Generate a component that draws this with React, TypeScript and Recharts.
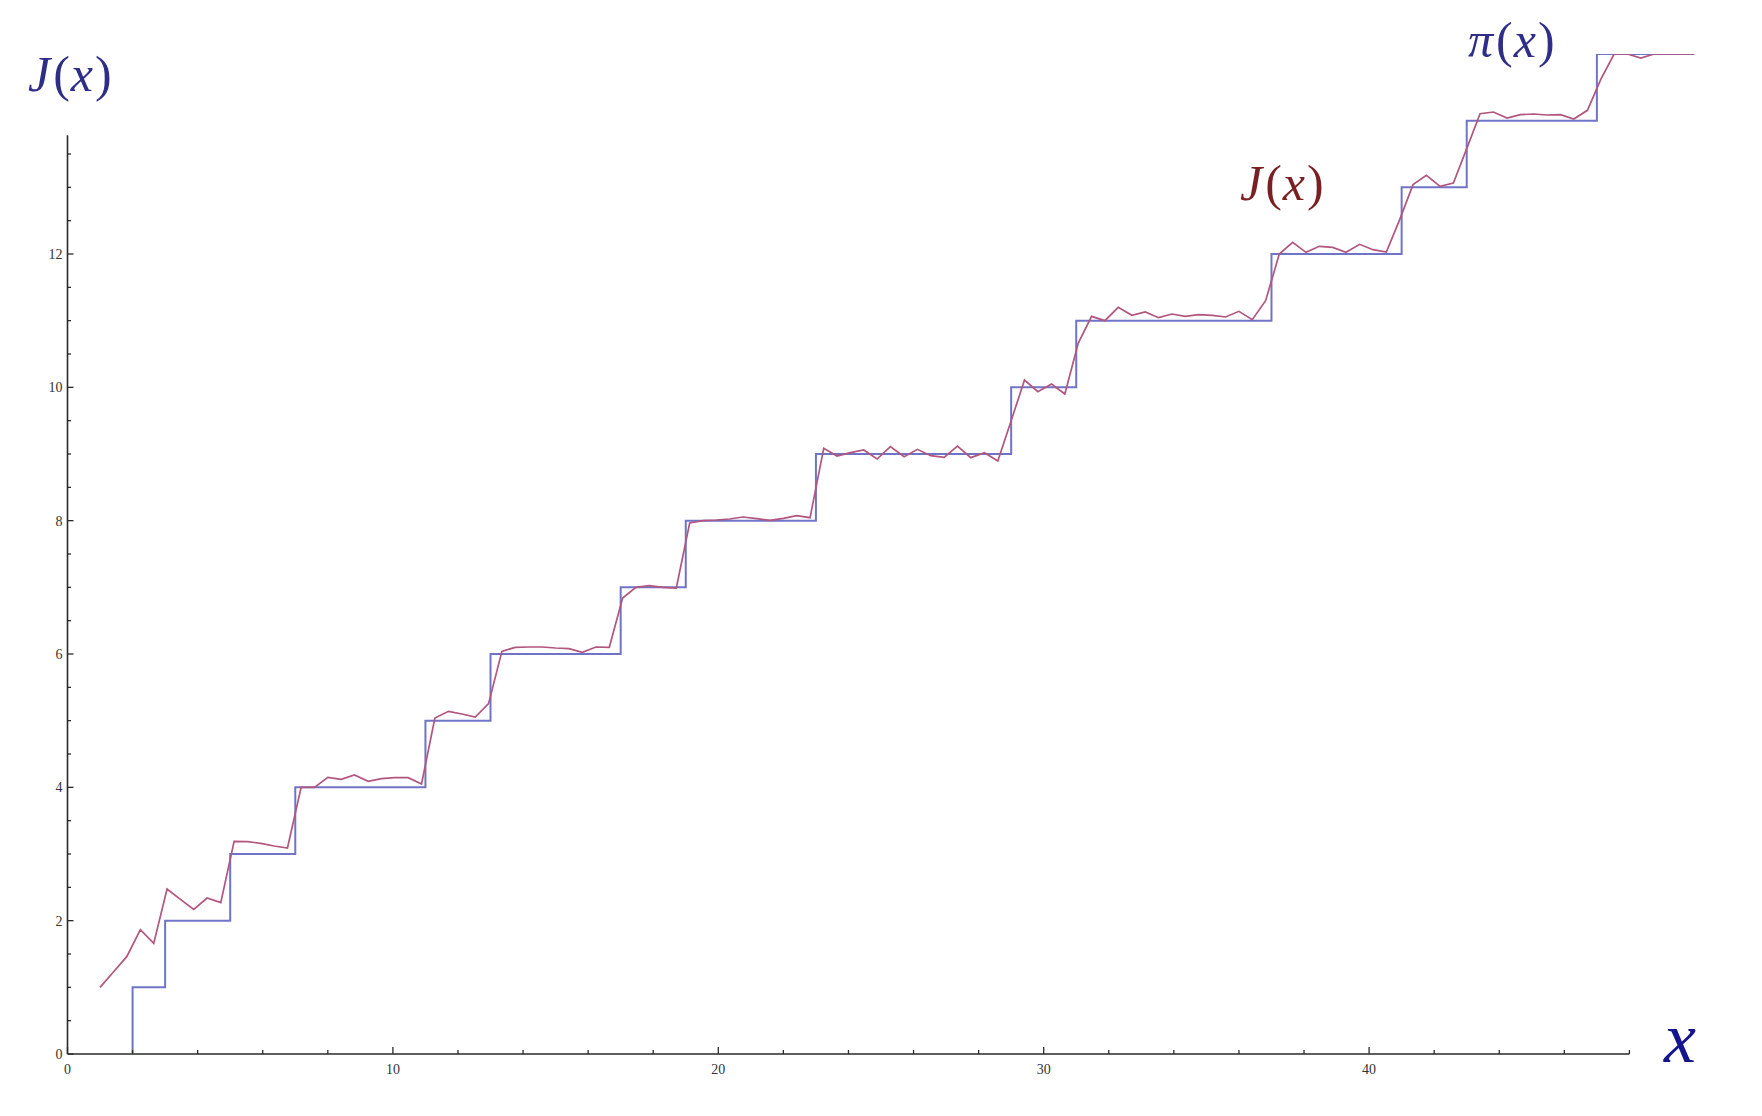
import { LineChart, Line, XAxis, YAxis, ReferenceLine } from "recharts";

// prime-counting step function
const primes = [2, 3, 5, 7, 11, 13, 17, 19, 23, 29, 31, 37, 41, 43, 47];
const primeCounts = [1, 2, 3, 4, 5, 6, 7, 8, 9, 10, 11, 12, 13, 14, 15];
const piStart = { x: 2, y: 0 };
const piEnd = { x: 50, y: 15 };

// J(x) sample points
const jX = [
  1.0, 1.41, 1.82, 2.24, 2.65, 3.06, 3.47, 3.88, 4.29, 4.71,
  5.12, 5.53, 5.94, 6.35, 6.76, 7.18, 7.59, 8.0, 8.41, 8.82,
  9.24, 9.65, 10.06, 10.47, 10.88, 11.29, 11.71, 12.12, 12.53, 12.94,
  13.35, 13.76, 14.18, 14.59, 15.0, 15.41, 15.82, 16.24, 16.65, 17.06,
  17.47, 17.88, 18.29, 18.71, 19.12, 19.53, 19.94, 20.35, 20.76, 21.18,
  21.59, 22.0, 22.41, 22.82, 23.24, 23.65, 24.06, 24.47, 24.88, 25.29,
  25.71, 26.12, 26.53, 26.94, 27.35, 27.76, 28.18, 28.59, 29.0, 29.41,
  29.82, 30.24, 30.65, 31.06, 31.47, 31.88, 32.29, 32.71, 33.12, 33.53,
  33.94, 34.35, 34.76, 35.18, 35.59, 36.0, 36.41, 36.82, 37.24, 37.65,
  38.06, 38.47, 38.88, 39.29, 39.71, 40.12, 40.53, 40.94, 41.35, 41.76,
  42.18, 42.59, 43.0, 43.41, 43.82, 44.24, 44.65, 45.06, 45.47, 45.88,
  46.29, 46.71, 47.12, 47.53, 47.94, 48.35, 48.76, 49.18, 49.59, 50.0,
];
const jY = [
  1.0, 1.23, 1.46, 1.865, 1.66, 2.475, 2.32, 2.17, 2.34, 2.27,
  3.19, 3.185, 3.16, 3.12, 3.09, 4.0, 4.0, 4.15, 4.12, 4.185,
  4.09, 4.13, 4.145, 4.145, 4.05, 5.04, 5.14, 5.1, 5.055, 5.255,
  6.04, 6.1, 6.105, 6.105, 6.09, 6.08, 6.025, 6.105, 6.1, 6.84,
  7.0, 7.025, 7.0, 6.99, 7.965, 8.0, 8.01, 8.025, 8.055, 8.03,
  8.005, 8.035, 8.075, 8.045, 9.085, 8.97, 9.02, 9.06, 8.925, 9.11,
  8.96, 9.07, 8.975, 8.95, 9.12, 8.945, 9.02, 8.895, 9.5, 10.11,
  9.935, 10.05, 9.9, 10.66, 11.065, 11.0, 11.2, 11.08, 11.13, 11.045,
  11.1, 11.065, 11.09, 11.08, 11.055, 11.14, 11.015, 11.3, 12.0, 12.175,
  12.025, 12.115, 12.1, 12.025, 12.145, 12.065, 12.03, 12.515, 13.04, 13.18,
  13.015, 13.065, 13.58, 14.105, 14.13, 14.04, 14.09, 14.1, 14.085, 14.09,
  14.025, 14.155, 14.62, 15.0, 15.0, 14.94, 15.0, 15.0, 15.0, 15.0,
];

const xTicks = [
  0, 2, 4, 6, 8, 10, 12, 14, 16, 18, 20, 22, 24, 26, 28, 30, 32, 34, 36, 38,
  40, 42, 44, 46, 48,
];
const xLabelled = [0, 10, 20, 30, 40];
const yTicks = [
  0, 0.5, 1, 1.5, 2, 2.5, 3, 3.5, 4, 4.5, 5, 5.5, 6, 6.5, 7, 7.5, 8, 8.5, 9,
  9.5, 10, 10.5, 11, 11.5, 12, 12.5, 13, 13.5,
];
const yLabelled = [0, 2, 4, 6, 8, 10, 12];
const xAxisEnd = 48;
const yAxisEnd = 13.78;

const piData = [
  piStart,
  ...primes.map((p, i) => ({ x: p, y: primeCounts[i] })),
  piEnd,
];
const jData = jX.map((x, i) => ({ x, y: jY[i] }));

const AXIS = "#2a2a2a";
const TICK_FONT = "'Liberation Serif', 'Times New Roman', serif";

function XTick(props: any) {
  const { x, y, payload } = props;
  const major = xLabelled.includes(payload.value);
  return (
    <g>
      <line x1={x} y1={y} x2={x} y2={y - (major ? 7 : 4)} stroke={AXIS} strokeWidth={1.3} />
      {major && (
        <text x={x} y={y + 20} textAnchor="middle" fontFamily={TICK_FONT} fontSize={14} fill="#333">
          {payload.value}
        </text>
      )}
    </g>
  );
}

function YTick(props: any) {
  const { x, y, payload } = props;
  const major = yLabelled.includes(payload.value);
  return (
    <g>
      <line x1={x} y1={y} x2={x + (major ? 6 : 3.5)} y2={y} stroke={AXIS} strokeWidth={1.3} />
      {major && (
        <text x={x - 5} y={y + 5} textAnchor="end" fontFamily={TICK_FONT} fontSize={14} fill="#333">
          {payload.value}
        </text>
      )}
    </g>
  );
}

const MATH_FONT = "'Liberation Serif', 'Times New Roman', serif";

function MathLabel({ x, y, size, color, head }: any) {
  return (
    <text x={x} y={y} fontFamily={MATH_FONT} fontSize={size} fill={color}>
      <tspan fontStyle="italic">{head}</tspan>
      <tspan dx={3}>(</tspan>
      <tspan fontStyle="italic" dx={1}>x</tspan>
      <tspan dx={2}>)</tspan>
    </text>
  );
}

export default function App() {
  return (
    <div style={{ position: "absolute", left: 0, top: 0, width: 1762, height: 1116, background: "#fff" }}>
      <LineChart
        width={1762}
        height={1116}
        margin={{ top: 54, right: 67.5, bottom: 61, left: 66.5 }}
      >
        <XAxis
          type="number"
          dataKey="x"
          domain={[0, 50]}
          ticks={xTicks}
          interval={0}
          tick={XTick}
          tickSize={0}
          tickMargin={0}
          tickLine={false}
          axisLine={false}
          height={1}
          allowDataOverflow
        />
        <YAxis
          type="number"
          domain={[0, 15]}
          ticks={yTicks}
          interval={0}
          tick={YTick}
          tickSize={0}
          tickMargin={0}
          tickLine={false}
          axisLine={false}
          width={1}
          allowDataOverflow
        />
        <ReferenceLine
          segment={[{ x: 0, y: 0 }, { x: xAxisEnd, y: 0 }]}
          stroke={AXIS}
          strokeWidth={1.6}
        />
        <ReferenceLine
          segment={[{ x: 0, y: 0 }, { x: 0, y: yAxisEnd }]}
          stroke={AXIS}
          strokeWidth={1.6}
        />
        <Line
          data={piData}
          dataKey="y"
          type="stepAfter"
          stroke="#6f74c6"
          strokeWidth={2}
          dot={false}
          activeDot={false}
          isAnimationActive={false}
        />
        <Line
          data={jData}
          dataKey="y"
          type="linear"
          stroke="#b2567f"
          strokeWidth={1.7}
          dot={false}
          activeDot={false}
          isAnimationActive={false}
        />
      </LineChart>
      <svg
        width={1762}
        height={1116}
        style={{ position: "absolute", left: 0, top: 0, pointerEvents: "none" }}
      >
        <MathLabel x={28} y={91} size={50} color="#2e2e88" head="J" />
        <MathLabel x={1468} y={57} size={50} color="#2e2e88" head={"\u03c0"} />
        <MathLabel x={1240} y={200} size={50} color="#7a1f22" head="J" />
        <text x={1664} y={1062} fontFamily={MATH_FONT} fontSize={72} fontStyle="italic" fill="#14148c">
          x
        </text>
      </svg>
    </div>
  );
}
